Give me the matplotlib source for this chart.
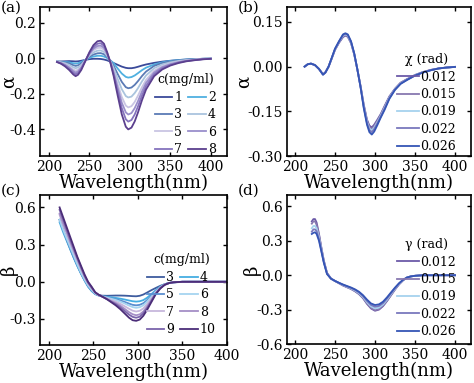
import numpy as np
import matplotlib
matplotlib.use("Agg")
import matplotlib.pyplot as plt

plt.rcParams['font.family'] = 'DejaVu Serif'
plt.rcParams['axes.unicode_minus'] = False

# ---- panel (a): alpha vs wavelength for several concentrations ----
wl_a = [210, 215, 220, 225, 230, 233, 236, 240, 245, 250, 255, 260, 264, 268, 272, 276,
        280, 285, 290, 295, 298, 302, 306, 310, 315, 320, 330, 340, 350, 360, 370, 380, 390, 400]
a_c1 = [-0.018, -0.017, -0.016, -0.015, -0.016, -0.017, -0.016, -0.013, -0.008, -0.004, -0.002, -0.002,
        -0.003, -0.006, -0.011, -0.018, -0.026, -0.036, -0.046, -0.053, -0.055, -0.055, -0.052, -0.047,
        -0.040, -0.034, -0.025, -0.018, -0.013, -0.009, -0.006, -0.004, -0.002, -0.001]
a_c2 = [-0.018, -0.019, -0.020, -0.022, -0.027, -0.029, -0.027, -0.020, -0.008, 0.004, 0.011, 0.015,
        0.015, 0.011, 0.002, -0.011, -0.027, -0.057, -0.085, -0.104, -0.108, -0.105, -0.096, -0.083,
        -0.066, -0.052, -0.034, -0.022, -0.014, -0.009, -0.006, -0.004, -0.002, -0.001]
a_c3 = [-0.018, -0.020, -0.023, -0.028, -0.038, -0.042, -0.039, -0.028, -0.009, 0.010, 0.022, 0.029,
        0.030, 0.024, 0.008, -0.013, -0.042, -0.088, -0.132, -0.162, -0.168, -0.164, -0.149, -0.128,
        -0.099, -0.074, -0.042, -0.026, -0.017, -0.011, -0.007, -0.004, -0.002, -0.001]
a_c4 = [-0.018, -0.022, -0.027, -0.036, -0.050, -0.055, -0.051, -0.036, -0.010, 0.016, 0.034, 0.044,
        0.045, 0.037, 0.014, -0.015, -0.055, -0.116, -0.173, -0.212, -0.220, -0.215, -0.195, -0.168,
        -0.129, -0.096, -0.055, -0.034, -0.022, -0.014, -0.009, -0.006, -0.003, -0.001]
a_c5 = [-0.019, -0.024, -0.032, -0.045, -0.062, -0.069, -0.063, -0.045, -0.011, 0.022, 0.046, 0.059,
        0.060, 0.050, 0.020, -0.018, -0.069, -0.145, -0.217, -0.266, -0.276, -0.269, -0.245, -0.210,
        -0.162, -0.121, -0.069, -0.043, -0.028, -0.018, -0.011, -0.007, -0.003, -0.001]
a_c6 = [-0.020, -0.026, -0.036, -0.051, -0.071, -0.079, -0.073, -0.051, -0.012, 0.026, 0.055, 0.070,
        0.072, 0.060, 0.025, -0.020, -0.079, -0.166, -0.249, -0.304, -0.316, -0.308, -0.280, -0.241,
        -0.186, -0.138, -0.079, -0.049, -0.032, -0.021, -0.013, -0.008, -0.004, -0.002]
a_c7 = [-0.020, -0.028, -0.040, -0.058, -0.080, -0.089, -0.082, -0.058, -0.014, 0.030, 0.064, 0.083,
        0.086, 0.071, 0.030, -0.022, -0.089, -0.187, -0.280, -0.343, -0.356, -0.347, -0.316, -0.271,
        -0.209, -0.156, -0.089, -0.055, -0.036, -0.023, -0.014, -0.009, -0.004, -0.002]
a_c8 = [-0.020, -0.030, -0.045, -0.065, -0.090, -0.100, -0.092, -0.065, -0.015, 0.035, 0.075, 0.097,
        0.100, 0.083, 0.035, -0.025, -0.100, -0.210, -0.315, -0.385, -0.400, -0.390, -0.355, -0.305,
        -0.235, -0.175, -0.100, -0.062, -0.040, -0.026, -0.016, -0.010, -0.005, -0.002]
a_series = [a_c1, a_c2, a_c3, a_c4, a_c5, a_c6, a_c7, a_c8]
a_labels = ['1', '2', '3', '4', '5', '6', '7', '8']
a_colors = ['#3a4a9a', '#4fb0e0', '#5b7bb5', '#aac4de', '#c9c5e3', '#9a8fcb', '#8573bd', '#5b3f8e']

# ---- panel (b): alpha vs wavelength for several angles ----
wl_b = [212, 216, 220, 225, 230, 235, 238, 242, 246, 250, 255, 260, 263, 266, 270, 274, 278, 282,
        286, 290, 293, 296, 299, 303, 307, 312, 318, 325, 332, 340, 350, 360, 370, 380, 390, 400]
b_012 = [0.000, 0.008, 0.010, 0.005, -0.008, -0.026, -0.019, 0.000, 0.028, 0.056, 0.080, 0.099,
         0.104, 0.100, 0.079, 0.041, -0.010, -0.066, -0.128, -0.178, -0.198, -0.204, -0.195, -0.178,
         -0.160, -0.132, -0.100, -0.074, -0.054, -0.042, -0.028, -0.018, -0.011, -0.006, -0.003, -0.001]
b_015 = [0.000, 0.008, 0.010, 0.005, -0.008, -0.026, -0.019, 0.000, 0.028, 0.057, 0.081, 0.101,
         0.106, 0.102, 0.080, 0.042, -0.010, -0.067, -0.131, -0.182, -0.203, -0.209, -0.200, -0.182,
         -0.163, -0.135, -0.102, -0.075, -0.055, -0.043, -0.029, -0.019, -0.011, -0.006, -0.003, -0.001]
b_019 = [0.000, 0.008, 0.010, 0.005, -0.008, -0.027, -0.020, 0.000, 0.029, 0.058, 0.083, 0.104,
         0.108, 0.104, 0.082, 0.043, -0.010, -0.068, -0.134, -0.186, -0.208, -0.214, -0.205, -0.186,
         -0.166, -0.138, -0.104, -0.076, -0.056, -0.044, -0.029, -0.019, -0.012, -0.006, -0.003, -0.001]
b_022 = [0.000, 0.008, 0.010, 0.005, -0.008, -0.027, -0.020, 0.000, 0.029, 0.059, 0.084, 0.106,
         0.110, 0.106, 0.084, 0.044, -0.010, -0.069, -0.137, -0.190, -0.213, -0.220, -0.210, -0.190,
         -0.169, -0.141, -0.106, -0.077, -0.057, -0.044, -0.030, -0.019, -0.012, -0.006, -0.003, -0.001]
b_026 = [0.000, 0.008, 0.010, 0.005, -0.008, -0.027, -0.020, 0.000, 0.030, 0.060, 0.085, 0.108,
         0.112, 0.108, 0.085, 0.045, -0.010, -0.070, -0.140, -0.195, -0.220, -0.228, -0.218, -0.196,
         -0.172, -0.145, -0.108, -0.078, -0.058, -0.045, -0.030, -0.020, -0.012, -0.006, -0.003, -0.001]
b_series = [b_012, b_015, b_019, b_022, b_026]
ang_labels = ['0.012', '0.015', '0.019', '0.022', '0.026']
ang_colors = ['#6c5aa8', '#8878b0', '#a6d2ee', '#7a78bd', '#3555b5']

# ---- panel (c): beta vs wavelength for several concentrations ----
wl_c = [212, 216, 220, 224, 228, 232, 236, 240, 244, 248, 252, 256, 260, 265, 270, 275, 280, 285,
        290, 294, 298, 302, 306, 310, 315, 320, 325, 330, 335, 340, 350, 360, 380, 400]
c_c3 = [0.50, 0.42, 0.34, 0.265, 0.195, 0.13, 0.07, 0.015, -0.035, -0.072, -0.097, -0.108, -0.112,
        -0.113, -0.112, -0.111, -0.111, -0.112, -0.114, -0.116, -0.117, -0.113, -0.103, -0.088,
        -0.068, -0.050, -0.033, -0.020, -0.010, -0.005, -0.001, 0.0, 0.0, 0.0]
c_c4 = [0.48, 0.40, 0.33, 0.26, 0.19, 0.125, 0.065, 0.01, -0.04, -0.075, -0.100, -0.112, -0.117,
        -0.121, -0.125, -0.130, -0.136, -0.143, -0.151, -0.157, -0.160, -0.157, -0.148, -0.130,
        -0.100, -0.068, -0.040, -0.020, -0.009, -0.004, 0.0, 0.0, 0.0, 0.0]
c_c5 = [0.50, 0.42, 0.34, 0.27, 0.20, 0.135, 0.07, 0.015, -0.035, -0.070, -0.097, -0.110, -0.117,
        -0.124, -0.132, -0.140, -0.150, -0.162, -0.176, -0.186, -0.190, -0.186, -0.173, -0.150,
        -0.113, -0.075, -0.043, -0.021, -0.009, -0.004, 0.0, 0.0, 0.0, 0.0]
c_c6 = [0.50, 0.42, 0.35, 0.28, 0.21, 0.14, 0.075, 0.02, -0.03, -0.065, -0.095, -0.110, -0.118,
        -0.127, -0.137, -0.147, -0.160, -0.175, -0.192, -0.204, -0.210, -0.205, -0.190, -0.163,
        -0.122, -0.080, -0.045, -0.022, -0.010, -0.004, 0.0, 0.0, 0.0, 0.0]
c_c7 = [0.54, 0.46, 0.39, 0.31, 0.24, 0.17, 0.10, 0.04, -0.015, -0.055, -0.090, -0.110, -0.120,
        -0.133, -0.147, -0.160, -0.177, -0.197, -0.218, -0.233, -0.240, -0.234, -0.215, -0.183,
        -0.135, -0.087, -0.048, -0.023, -0.010, -0.004, 0.0, 0.0, 0.0, 0.0]
c_c8 = [0.55, 0.47, 0.40, 0.32, 0.25, 0.18, 0.11, 0.045, -0.01, -0.050, -0.088, -0.108, -0.120,
        -0.137, -0.155, -0.172, -0.192, -0.218, -0.245, -0.262, -0.270, -0.263, -0.240, -0.203,
        -0.148, -0.092, -0.050, -0.024, -0.010, -0.004, 0.0, 0.0, 0.0, 0.0]
c_c9 = [0.58, 0.50, 0.42, 0.34, 0.265, 0.19, 0.12, 0.05, -0.005, -0.045, -0.085, -0.105, -0.120,
        -0.140, -0.160, -0.180, -0.205, -0.235, -0.265, -0.283, -0.290, -0.282, -0.255, -0.215,
        -0.155, -0.095, -0.052, -0.024, -0.010, -0.004, 0.0, 0.0, 0.0, 0.0]
c_c10 = [0.60, 0.52, 0.44, 0.36, 0.28, 0.20, 0.13, 0.06, 0.0, -0.040, -0.085, -0.105, -0.120,
         -0.140, -0.165, -0.190, -0.220, -0.255, -0.290, -0.310, -0.315, -0.305, -0.275, -0.230,
         -0.165, -0.100, -0.055, -0.025, -0.010, -0.004, 0.0, 0.0, 0.0, 0.0]
c_series = [c_c3, c_c4, c_c5, c_c6, c_c7, c_c8, c_c9, c_c10]
c_labels = ['3', '4', '5', '6', '7', '8', '9', '10']
c_colors = ['#3e5c9e', '#45aee2', '#5a8fd0', '#a6d4f0', '#c7b7dc', '#a58fc6', '#7b64ab', '#4b2d78']

# ---- panel (d): beta vs wavelength for several angles ----
wl_d = [221, 223, 225, 227, 230, 233, 236, 240, 245, 250, 255, 260, 265, 270, 275, 280, 285, 290,
        295, 300, 305, 310, 315, 320, 325, 330, 335, 340, 345, 350, 360, 380, 400]
d_012 = [0.47, 0.49, 0.49, 0.46, 0.36, 0.24, 0.13, 0.02, -0.03, -0.05, -0.07, -0.09, -0.105, -0.12,
         -0.14, -0.165, -0.20, -0.25, -0.29, -0.31, -0.30, -0.27, -0.225, -0.175, -0.125, -0.08,
         -0.045, -0.02, -0.01, -0.005, 0.0, 0.0, 0.0]
d_015 = [0.45, 0.47, 0.47, 0.44, 0.35, 0.235, 0.125, 0.02, -0.03, -0.05, -0.07, -0.088, -0.103,
         -0.118, -0.138, -0.162, -0.197, -0.245, -0.285, -0.305, -0.295, -0.266, -0.222, -0.172,
         -0.123, -0.079, -0.044, -0.02, -0.01, -0.005, 0.0, 0.0, 0.0]
d_019 = [0.41, 0.43, 0.43, 0.41, 0.33, 0.225, 0.12, 0.015, -0.03, -0.05, -0.068, -0.085, -0.10,
         -0.115, -0.133, -0.157, -0.19, -0.235, -0.272, -0.29, -0.282, -0.255, -0.213, -0.165,
         -0.118, -0.076, -0.043, -0.02, -0.01, -0.005, 0.0, 0.0, 0.0]
d_022 = [0.38, 0.40, 0.40, 0.385, 0.315, 0.215, 0.115, 0.015, -0.03, -0.05, -0.067, -0.083, -0.097,
         -0.111, -0.128, -0.15, -0.182, -0.224, -0.259, -0.275, -0.268, -0.243, -0.203, -0.158,
         -0.113, -0.073, -0.042, -0.02, -0.01, -0.005, 0.0, 0.0, 0.0]
d_026 = [0.36, 0.37, 0.375, 0.36, 0.30, 0.205, 0.11, 0.01, -0.03, -0.05, -0.066, -0.081, -0.094,
         -0.107, -0.123, -0.144, -0.174, -0.213, -0.246, -0.26, -0.254, -0.231, -0.193, -0.15,
         -0.108, -0.07, -0.04, -0.02, -0.01, -0.005, 0.0, 0.0, 0.0]
d_series = [d_012, d_015, d_019, d_022, d_026]

W, H = 474, 383
fig = plt.figure(figsize=(W / 100, H / 100), dpi=100)


def px_axes(left, top, right, bottom):
    return fig.add_axes([left / W, 1 - bottom / H, (right - left) / W, (bottom - top) / H])


def style(ax, ylabel, ylabel_x):
    # ylabel_x: horizontal centre of the y label, in figure pixels
    ax.tick_params(direction='in', top=True, right=True, length=3, width=1, labelsize=10, pad=3)
    for s in ax.spines.values():
        s.set_linewidth(1.2)
    ax.set_xlabel('Wavelength(nm)', fontsize=13, labelpad=0)
    ax.set_ylabel(ylabel, fontsize=13, va='center', ha='center')
    pos = ax.get_position()
    ax.yaxis.set_label_coords((ylabel_x - pos.x0 * W) / (pos.width * W), 0.5)
    ax.set_xticks([200, 250, 300, 350, 400])


def two_col_legend(ax, lines, labels, title, anchor):
    order = [0, 2, 4, 6, 1, 3, 5, 7]
    leg = ax.legend([lines[i] for i in order], [labels[i] for i in order], ncol=2, title=title,
                    loc='lower right', bbox_to_anchor=anchor, frameon=False, fontsize=9,
                    title_fontsize=9, handlelength=1.4, handletextpad=0.15, columnspacing=0.5,
                    labelspacing=0.35, borderpad=0, borderaxespad=0)
    return leg


# (a)
ax = px_axes(40, 7, 227, 156)
lines = [ax.plot(wl_a, y, color=c, lw=1.3)[0] for y, c in zip(a_series, a_colors)]
ax.set_xlim(189, 420)
ax.set_ylim(-0.55, 0.29)
ax.set_yticks([0.2, 0.0, -0.2, -0.4])
ax.set_yticklabels(['0.2', '0.0', '-0.2', '-0.4'])
style(ax, 'α', 9)
two_col_legend(ax, lines, a_labels, 'c(mg/ml)', (0.94, 0.0))

# (b)
ax = px_axes(287, 7, 471, 156)
lines = [ax.plot(wl_b, y, color=c, lw=1.3)[0] for y, c in zip(b_series, ang_colors)]
ax.set_xlim(190, 420)
ax.set_ylim(-0.30, 0.20)
ax.set_yticks([0.15, 0.0, -0.15, -0.30])
ax.set_yticklabels(['0.15', '0.00', '-0.15', '-0.30'])
style(ax, 'α', 244)
ax.legend(lines, ang_labels, title='χ (rad)', loc='lower right', bbox_to_anchor=(0.92, 0.02),
          frameon=False, fontsize=9, title_fontsize=9, handlelength=1.7, handletextpad=0.15,
          labelspacing=0.35, borderpad=0, borderaxespad=0)

# (c)
ax = px_axes(40, 195, 227, 345)
lines = [ax.plot(wl_c, y, color=c, lw=1.3)[0] for y, c in zip(c_series, c_colors)]
ax.set_xlim(190, 400)
ax.set_ylim(-0.51, 0.70)
ax.set_yticks([0.6, 0.3, 0.0, -0.3])
ax.set_yticklabels(['0.6', '0.3', '0.0', '-0.3'])
style(ax, 'β', 9)
two_col_legend(ax, lines, c_labels, 'c(mg/ml)', (0.94, 0.06))

# (d)
ax = px_axes(287, 195, 471, 344)
lines = [ax.plot(wl_d, y, color=c, lw=1.3)[0] for y, c in zip(d_series, ang_colors)]
ax.set_xlim(190, 420)
ax.set_ylim(-0.60, 0.70)
ax.set_yticks([0.6, 0.3, 0.0, -0.3, -0.6])
ax.set_yticklabels(['0.6', '0.3', '0.0', '-0.3', '-0.6'])
style(ax, 'β', 252)
ax.legend(lines, ang_labels, title='γ (rad)', loc='lower right', bbox_to_anchor=(0.92, 0.04),
          frameon=False, fontsize=9, title_fontsize=9, handlelength=1.7, handletextpad=0.15,
          labelspacing=0.35, borderpad=0, borderaxespad=0)

fig.text(1 / W, 1 - 1 / H, '(a)', fontsize=11, va='top', ha='left')
fig.text(238 / W, 1 - 1 / H, '(b)', fontsize=11, va='top', ha='left')
fig.text(1 / W, 1 - 184 / H, '(c)', fontsize=11, va='top', ha='left')
fig.text(238 / W, 1 - 184 / H, '(d)', fontsize=11, va='top', ha='left')

fig.savefig('out.png', dpi=100)
